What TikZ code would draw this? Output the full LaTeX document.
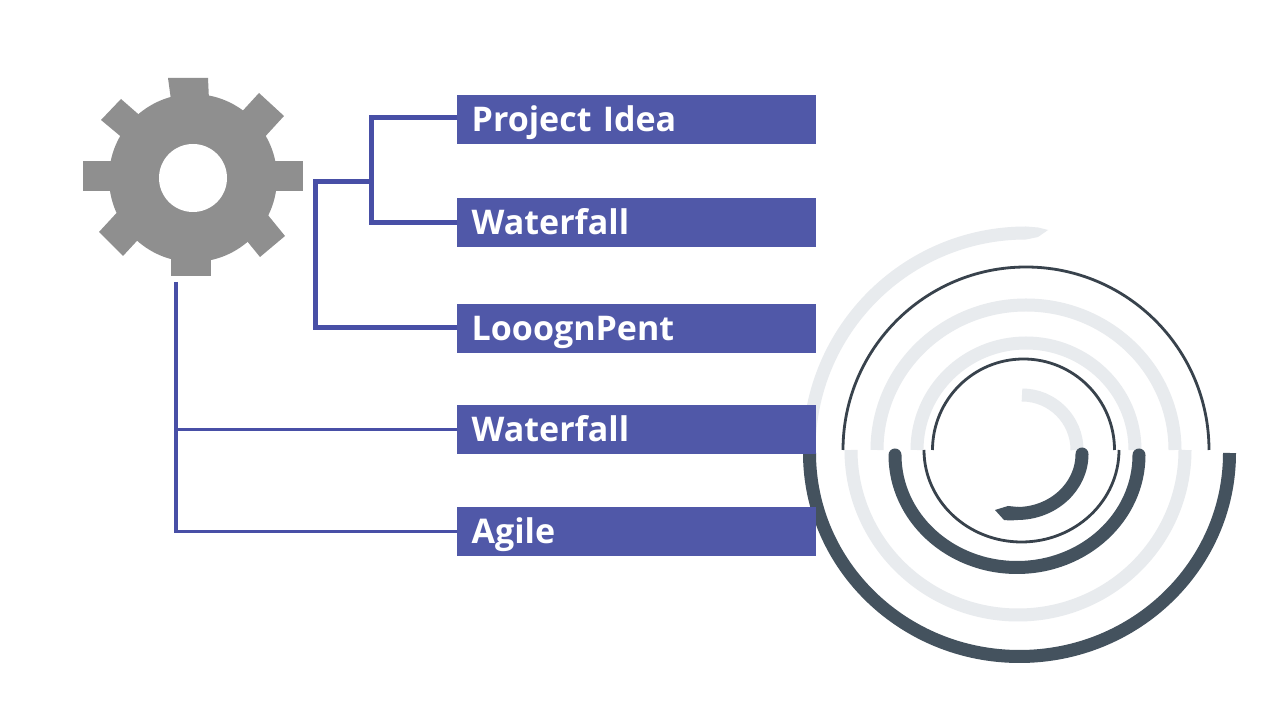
\documentclass[tikz,border=0pt]{standalone}
\usepackage{fontspec}
\setmainfont{Open Sans}
\definecolor{barblue}{HTML}{5058A8}
\definecolor{linkblue}{HTML}{484FA6}
\definecolor{geargray}{HTML}{8F8F8F}
\definecolor{ringdark}{HTML}{44525E}
\definecolor{ringthinc}{HTML}{38424C}
\definecolor{ringlight}{HTML}{E8EBEE}
\tikzset{
  x=1pt,y=1pt,
  bar/.style={fill=barblue,draw=none,anchor=west,minimum width=359pt,minimum height=49pt,inner xsep=14.5pt,inner ysep=0pt,
    text width=330pt,align=left,text height=36.5pt,text depth=11.5pt,text=white,font=\fontsize{34}{38}\selectfont\bfseries},
  link/.style={draw=linkblue,line width=5pt,line join=miter},
  linkthin/.style={draw=linkblue,line width=3.2pt,line join=miter},
  ringthin/.style={draw=ringthinc,line width=2.8pt},
  ringthick/.style={draw=ringdark,line width=13pt,line cap=round},
  ringthickflat/.style={draw=ringdark,line width=13pt},
  ringpale/.style={draw=ringlight,line width=13pt},
}
\begin{document}
\begin{tikzpicture}
\useasboundingbox (0,0) rectangle (1280,720);
\fill[white] (0,0) rectangle (1280,720);
% rings: upper half (baseline y=270)
\draw[ringpale] (1026,487) arc[start angle=90,end angle=180,radius=217pt];
\fill[ringlight] (1026,493.5) -- (1038,492.5) -- (1048,490) -- (1038,483) -- (1026,480.5) -- cycle;
\draw[ringpale] (1175,270) arc[start angle=0,end angle=180,x radius=149pt,y radius=145pt];
\draw[ringpale] (1135,270) arc[start angle=0,end angle=180,x radius=109pt,y radius=107pt];
\draw[ringpale] (1077,270) arc[start angle=0,end angle=90,radius=55pt];
\draw[ringthin] (1209,270) arc[start angle=0,end angle=180,radius=183pt];
\draw[ringthin] (1114.5,270) arc[start angle=0,end angle=180,radius=91pt];
% rings: lower half
\draw[ringpale] (1185,270) arc[start angle=0,end angle=-180,x radius=167pt,y radius=165pt];
\draw[ringthin] (1119,270) arc[start angle=0,end angle=-180,x radius=97.5pt,y radius=92pt];
\draw[ringthickflat] (1229.5,267) arc[start angle=0,end angle=-180,x radius=210pt,y radius=203.5pt];
\draw[ringthick] (1139,265) arc[start angle=0,end angle=-180,x radius=122pt,y radius=112.5pt];
\draw[ringthick] (1082,266) arc[start angle=0,end angle=-90,x radius=65pt,y radius=59.5pt];
\fill[ringdark] (1018,213) -- (1008,214) -- (995,210) -- (1004,200) -- (1010,199.5) -- (1018,200) -- cycle;
% gear
\coordinate (gearc) at (193,542);
\fill[geargray] (gearc) circle[radius=84pt];
\fill[geargray] (168,642) -- (208,642) -- (209,620) -- (171,620) -- cycle;
\fill[geargray] (171,444) -- (211,444) -- (211,470) -- (171,470) -- cycle;
\fill[geargray] (83,559) -- (115,559) -- (115,529) -- (83,529) -- cycle;
\fill[geargray] (303,559) -- (271,559) -- (271,529) -- (303,529) -- cycle;
\fill[geargray] (121,621) -- (101,600) -- (125,580) -- (145,600) -- cycle;
\fill[geargray] (259,627) -- (284,604) -- (262,580) -- (237,603) -- cycle;
\fill[geargray] (285,484) -- (260,463) -- (238,490) -- (263,511) -- cycle;
\fill[geargray] (99,488) -- (123,464) -- (147,490) -- (123,514) -- cycle;
\fill[white] (gearc) circle[radius=34pt];
\coordinate (gearbottom) at (176,438);
\coordinate (trunka) at (315,538);
\coordinate (trunkb) at (371,538);
% bars
\node[bar] (idea) at (457,600.5) {Project Idea};
\node[bar] (wf1) at (457,497.5) {Waterfall};
\node[bar] (loop) at (457,391.5) {LooognPent};
\node[bar] (wf2) at (457,290.5) {Waterfall};
\node[bar] (agile) at (457,188.5) {Agile};
% connectors
\draw[link] ([yshift=2pt]idea.west) -| (trunkb) |- (wf1.west);
\draw[link] (trunkb) -- (trunka) |- ([yshift=1pt]loop.west);
\draw[linkthin] (gearbottom) |- (agile.west);
\draw[linkthin] (wf2.west) -- (wf2.west -| gearbottom);
\end{tikzpicture}
\end{document}
